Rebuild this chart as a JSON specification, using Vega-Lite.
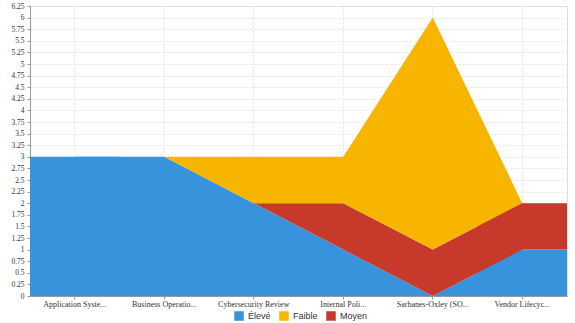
{
  "$schema": "https://vega.github.io/schema/vega-lite/v6.json",
  "autosize": "none",
  "width": 537,
  "height": 290,
  "padding": {"left": 30, "top": 6, "right": 8, "bottom": 27},
  "background": "white",
  "data": {"values": [
    {"cat": "Application Syste...", "niveau": "Élevé", "n": 3},
    {"cat": "Application Syste...", "niveau": "Moyen", "n": 0},
    {"cat": "Application Syste...", "niveau": "Faible", "n": 0},
    {"cat": "Business Operatio...", "niveau": "Élevé", "n": 3},
    {"cat": "Business Operatio...", "niveau": "Moyen", "n": 0},
    {"cat": "Business Operatio...", "niveau": "Faible", "n": 0},
    {"cat": "Cybersecurity Review", "niveau": "Élevé", "n": 2},
    {"cat": "Cybersecurity Review", "niveau": "Moyen", "n": 0},
    {"cat": "Cybersecurity Review", "niveau": "Faible", "n": 1},
    {"cat": "Internal Poli...", "niveau": "Élevé", "n": 1},
    {"cat": "Internal Poli...", "niveau": "Moyen", "n": 1},
    {"cat": "Internal Poli...", "niveau": "Faible", "n": 1},
    {"cat": "Sarbanes-Oxley (SO...", "niveau": "Élevé", "n": 0},
    {"cat": "Sarbanes-Oxley (SO...", "niveau": "Moyen", "n": 1},
    {"cat": "Sarbanes-Oxley (SO...", "niveau": "Faible", "n": 5},
    {"cat": "Vendor Lifecyc...", "niveau": "Élevé", "n": 1},
    {"cat": "Vendor Lifecyc...", "niveau": "Moyen", "n": 1},
    {"cat": "Vendor Lifecyc...", "niveau": "Faible", "n": 0}
  ]},
  "encoding": {
    "x": {
      "field": "cat", "type": "nominal", "bandPosition": 0.5,
      "sort": ["Application Syste...", "Business Operatio...", "Cybersecurity Review", "Internal Poli...", "Sarbanes-Oxley (SO...", "Vendor Lifecyc..."],
      "scale": {"type": "band", "paddingInner": 0, "paddingOuter": 0, "domain": ["Application Syste...", "Business Operatio...", "Cybersecurity Review", "Internal Poli...", "Sarbanes-Oxley (SO...", "Vendor Lifecyc..."]},
      "axis": {
        "title": null, "labelAngle": 0, "grid": true, "gridDash": [2, 2], "gridColor": "#e4e4e4",
        "labelFont": "Liberation Serif", "labelFontSize": 8, "labelColor": "#333",
        "domainColor": "#999", "tickColor": "#999", "tickSize": 3, "labelPadding": 1, "labelLimit": 120
      }
    },
    "y": {
      "field": "n", "type": "quantitative", "stack": "zero",
      "scale": {"domain": [0, 6.25], "nice": false},
      "axis": {
        "title": null, "values": [0,0.25,0.5,0.75,1,1.25,1.5,1.75,2,2.25,2.5,2.75,3,3.25,3.5,3.75,4,4.25,4.5,4.75,5,5.25,5.5,5.75,6,6.25],
        "format": ".3~g", "gridDash": [2, 2], "gridColor": "#e4e4e4",
        "labelFont": "Liberation Serif", "labelFontSize": 7.5, "labelColor": "#333",
        "domainColor": "#999", "tickColor": "#999", "tickSize": 3, "labelPadding": 3
      }
    },
    "color": {
      "field": "niveau", "type": "nominal",
      "scale": {"domain": ["Élevé", "Faible", "Moyen"], "range": ["#3793db", "#f7b500", "#c6392b"]},
      "legend": {
        "title": null, "orient": "none", "legendX": 204, "legendY": 305, "direction": "horizontal",
        "symbolType": "square", "symbolSize": 90, "symbolStrokeWidth": 0, "symbolOpacity": 1,
        "labelFont": "Liberation Sans", "labelFontSize": 9, "labelColor": "#333", "columnPadding": 8
      }
    },
    "order": {"field": "niveau", "sort": "descending"}
  },
  "layer": [
    {
      "transform": [{"filter": {"field": "cat", "oneOf": ["Application Syste...", "Vendor Lifecyc..."]}}],
      "mark": {"type": "bar", "strokeWidth": 0, "opacity": 1}
    },
    {
      "mark": {"type": "area", "opacity": 1, "interpolate": "linear"}
    }
  ]
}
